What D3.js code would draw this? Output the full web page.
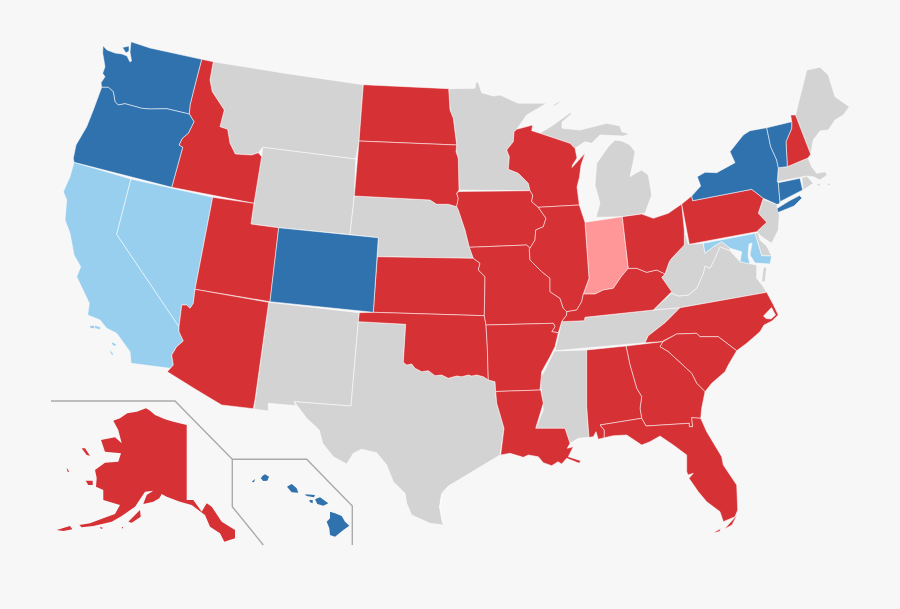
<!DOCTYPE html>
<html><head><meta charset="utf-8">
<script src="https://cdnjs.cloudflare.com/ajax/libs/d3/7.8.5/d3.min.js"></script>
<style>html,body{margin:0;padding:0;background:#f7f7f7}svg{display:block}</style>
</head><body><svg id="map" width="900" height="609" role="img" aria-label="Map of the United States with states coloured by party category"></svg>
<script>
// State outlines, in map units. Each state is a list of rings [x,y,x,y,...]
const WA=[[103,45.7,107,50,115,53,122,54,127,56,130,62,131.5,61,130,52,131,41.7,150,48,201.7,59.3,195,85,190,105,189.3,114,166.7,108.7,150,109,141.7,108.3,125,103.7,118.3,105,115,101.7,113.3,91.7,108.3,87.3,101.7,87.3,101,82.7,105,76.7,102.7,73.3,105,66.7,102.7,53.3],[122.5,47.5,129,46,129,51,126,53]];
const OR=[[101.7,87.3,108.3,87.3,113.3,91.7,115,101.7,118.3,105,125,103.7,141.7,108.3,150,109,166.7,108.7,189.3,114,194,121.7,188.3,133.3,182.3,138.3,179,145,182.7,147.3,171.7,187.3,74,162.3,73.3,158.3,76,145,86.7,126.7,93.3,110]];
const ID=[[201.7,59.3,213.3,61.7,210,80,212.3,91.7,224.3,110,220,126.7,227.7,129.3,230,143.3,235.3,154,251.7,155,258.3,152.7,261.7,156.7,254,203.3,171.7,187.3,182.7,147.3,179,145,182.3,138.3,188.3,133.3,194,121.7,189.3,114,190,105,195,85]];
const MT=[[213.3,61.7,283,73,363.3,84.7,359,141,355.7,159,262.7,147.3,258.3,152.7,251.7,155,235.3,154,230,143.3,227.7,129.3,220,126.7,224.3,110,212.3,91.7,210,80]];
const WY=[[262.7,147.3,355.7,159,354.3,196,350,234.5,278.7,227.7,251,224,254,203.3,261.7,156.7]];
const ND=[[363.3,84.7,448.7,88.7,450,110,453.3,118.3,456.7,145,359,141]];
const SD=[[359,141,456.7,145,456,151.7,458.3,158.3,459,190,456.7,193.3,458.3,198.3,456.7,206.7,448.3,204.3,436.7,204.3,430,200,354.3,196]];
const NE=[[354.3,196,430,200,436.7,204.3,448.3,204.3,456.7,206.7,458.3,210,465,230,469.3,247.3,473.3,258.3,377.3,256.7,378.3,237.7,350,234.5]];
const KS=[[377.3,256.7,473.3,258.3,480,263.3,478.3,270,485,276.7,484.3,315.7,373.3,312.3]];
const OK=[[359.3,312.7,373.3,312.3,484.3,315.7,486,325,487.3,346.7,488.3,380,483.3,376.7,476.7,375,471.7,376,468.3,375,461.7,376.7,456.7,376,448.3,378.3,441.7,375,435,375.7,428.3,370.7,421.7,371.7,415,368.3,411.7,364,406.7,365,403.3,362.3,405.7,324.3,358.3,321.7]];
const TX=[[358.3,321.7,405.7,324.3,403.3,362.3,406.7,365,411.7,364,415,368.3,421.7,371.7,428.3,370.7,435,375.7,441.7,375,448.3,378.3,456.7,376,461.7,376.7,468.3,375,471.7,376,476.7,375,483.3,376.7,488.3,380,495,381.7,495.7,391.7,496.7,403.3,504,428.3,500,455,483.3,465,466.7,475,450,485,442.7,491.7,440,506.7,443.3,525,430,523.3,411.7,515,406.7,503.3,405,493.3,393.3,481.7,386.7,465,376.7,452.7,361.7,449.3,353.3,453.3,346.7,464,333.3,456.7,322.7,443.3,319.3,430,306.7,418.3,294.3,401.7,351,406],[449,485.5,441.5,494,439.5,507,442.5,523,440,507,442,495]];
const MN=[[448.7,88.7,475,88.3,476,81.7,478.3,82.7,481.7,92.7,493.3,96,500,95,518.3,103.3,530,103.3,546.7,103.3,526.7,115,516.7,129.3,514,131.7,513.3,141.7,506.7,150,509.3,156.7,508.3,169.3,518.3,173.3,528.3,183.3,530,190.7,459,190,458.3,158.3,456,151.7,456.7,145,453.3,118.3,450,110]];
const IA=[[459,191.5,530,190.7,532.7,195,531.7,201.7,538.3,207.3,546,218.3,543.3,226.7,535.7,230,535,240,530,248.3,526.7,245,469.3,247.3,465,230,458.3,210,456.7,206.7,458.3,198.3,456.7,193.3]];
const MO=[[469.3,247.3,526.7,245,530,248.3,529.3,249.3,530,260,541.7,271.7,550,278.3,550,291.7,560,298.3,563.3,308.3,566.7,311.7,566.7,315,561.7,321.7,558.3,332.7,551.7,331.7,555,326.7,553.3,323.3,486,325,484.3,315.7,485,276.7,478.3,270,480,263.3,473.3,258.3]];
const AR=[[486,325,553.3,323.3,555,326.7,551.7,331.7,558.3,332.7,555,346.7,550,356.7,541.7,371.7,540,390,495.7,391.5,495,381.7,488.3,380,487.3,346.7]];
const LA=[[495.7,391.5,540.7,390,543.3,403.3,535.7,428.3,565,428.3,570,443.3,567.3,448.3,573.3,446.7,568.3,456.7,580.7,460.7,579.3,463.3,566.7,458.3,561.7,464,558,461.7,551.7,465.7,543.3,462.7,538.3,456.7,528.3,455,523.3,457.3,510,453.3,500.7,455,504,428.3,496.7,403.3]];
const WI=[[516.7,129.3,532.7,125,531.7,130.7,540,133.3,570,143.3,575,148.3,577,158,572.5,165,572,167.5,585,153.3,581,165,579.5,177,577,187,579.3,205,538.3,207.3,531.7,201.7,532.7,195,530,190.7,528.3,183.3,518.3,173.3,508.3,169.3,509.3,156.7,506.7,150,513.3,141.7,514,131.7]];
const IL=[[538.3,207.3,579.3,205,585,222.3,589,278.3,583.3,294,581.7,301.7,576.7,310,566.7,311.7,563.3,308.3,560,298.3,550,291.7,550,278.3,541.7,271.7,530,260,529.3,249.3,535,240,535.7,230,543.3,226.7,546,218.3]];
const MI=[[596,217.3,600,203.3,595,185,596.7,163.3,608.3,146.7,615,140,622,141,630,145,635,151.7,633,163,630,176.7,636,173,641.7,170,648.3,175,651.7,195,645,213.3,622.3,216.7],[540,133.3,553.3,125,570,112.7,572,113.5,562,122,562,128.3,580,130,606.7,123.3,620,126,621.7,131.7,630,134,623.3,136,600,135,591.7,143.3,585,141.7,575,148.3,570,143.3],[553.3,105,561.7,100,558,104,553.5,106.5]];
const IN=[[585,222.3,622.3,216.7,628.3,268.3,621.7,276,613.3,288.3,603.3,290,595,294,583.3,294,589,278.3]];
const OH=[[622.3,216.7,641.7,214,653.3,218.3,668.3,213.3,681.7,204,684.3,230,684.3,245,671.7,258.3,669.3,261.7,665,274,656.7,270,646.7,272.3,636.7,268.3,628.3,268.3]];
const KY=[[628.3,268.3,636.7,268.3,646.7,272.3,656.7,270,665,274,661.7,277.3,671.7,291.7,653.3,310,585,317.3,584.3,320.7,561.7,321.7,566.7,315,566.7,311.7,576.7,310,581.7,301.7,583.3,294,595,294,603.3,290,613.3,288.3,621.7,276]];
const TN=[[561.7,321.7,584.3,320.7,585,317.3,653.3,310,680,307.7,665,322.7,648.3,335.7,645,342.7,555,350.7]];
const MS=[[554.3,351,586.7,350,586.7,406.7,589,437.3,578.3,438.3,570,443.3,565,428.3,535.7,428.3,543.3,410,540,378.3,545,370]];
const AL=[[586.7,350,626,346,630,365,636.7,388.3,641.7,396.7,640,408.3,641.7,418.3,600,425,604.3,430,604.3,437.7,598.3,439.3,596,431.7,593.3,436.7,589,437.3,586.7,406.7]];
const GA=[[626,346,662.7,341.7,660,346.7,668.3,351.7,681.7,364,691.7,373.3,696.7,383.3,705,391.7,701.7,408.3,700.7,418.3,691.7,417.7,692.7,426.7,689.3,426.7,689.3,423.3,646,426,641.7,418.3,640,408.3,641.7,396.7,636.7,388.3,630,365]];
const FL=[[600,425,641.7,418.3,646,426,689.3,423.3,689.3,426.7,692.7,426.7,691.7,417.7,700.7,418.3,706.7,431.7,721.7,456.7,723.3,465,736.7,485,737.7,510,735,516.7,723.3,521.7,720,511.7,706.7,501.7,698.3,491.7,689,478.3,693.3,473.3,688,475,686.7,471.7,686.7,455,673.3,445,660,436,650,441.7,641.7,445,626.7,435,613.3,435.7,604.3,437.7,604.3,430],[713,533,720.7,528.5,719.5,531.5],[724.5,529,737,515,732,525]];
const SC=[[662.7,341.7,676.7,334,696.7,333.3,700,336.7,718.3,336.7,736.7,350.7,728.3,365,725,371.7,711.7,383.3,705,391.7,696.7,383.3,691.7,373.3,681.7,364,668.3,351.7,660,346.7]];
const NC=[[680,307.7,766.7,292.3,773,304,778.3,315,772,321,764,325,760,331.7,746.7,343.3,736.7,350.7,718.3,336.7,700,336.7,696.7,333.3,676.7,334,661.7,341.7,645,342.7,648.3,335.7,665,322.7],[771.5,307.5,775.5,315,771,319,766,318.5,763.5,316]];
const VA=[[653.3,310,671.7,293.3,678.3,296,688.3,295,696.7,288.3,703.3,273.3,705,266,710,268.3,715,258.3,720,246.7,730,250.7,740,261.7,756.7,265,756.7,278.3,763.3,286.7,766.7,292.3,680,307.7],[763.3,268,766.7,266.7,765,281.7,761.7,281.7]];
const WV=[[684.3,230,688.3,244.3,703.3,243.3,705,253.3,713.3,246.7,721.7,241.7,730,248.3,730,250.7,720,246.7,715,258.3,710,268.3,705,266,703.3,273.3,696.7,288.3,688.3,295,678.3,296,671.7,293.3,661.7,277.3,665,274,669.3,261.7,671.7,258.3,684.3,245]];
const MD=[[703.3,243.3,755,233.3,761.7,255.7,771.7,256,770,264,755,263,750,255,752,243,749,244,748,256,750,264,740,261.7,741.7,251.7,730,248.3,721.7,241.7,713.3,246.7,705,253.3]];
const DE=[[755,233.3,758,232.5,760,240,766.7,246,771.7,256,761.7,255.7]];
const PA=[[681.7,204,691.7,196,692.7,200.7,751.7,189.3,763.3,198.3,758.3,213.3,766.7,222.3,756.7,231.7,689.3,244.3]];
const NJ=[[763.3,199.3,776.7,204.3,779.3,215,778.3,230,771.7,243.3,761.7,236.7,756.7,231.7,766.7,222.3,758.3,213.3]];
const NY=[[692.7,200.7,691.7,196,700.7,186,697.3,176.7,705,172.3,716.7,172.7,735,162.7,730,151.7,743.3,135,750,130.7,766.7,127.7,770.7,146.7,776.7,160,778.3,167.7,777.3,181.7,778.3,182.7,780,201.7,779,204,776.7,204.3,763.3,198.3,751.7,189.3],[777,208.5,789,201,799.5,195.5,802,198,794,206,778,212.5]];
const CT=[[778.3,182.7,800,178.3,802.7,190,780,201.7]];
const RI=[[801.7,177.7,806.7,176,813.3,183.3,803.3,190]];
const MA=[[778.3,167.7,787.3,166.7,808,158,811.7,166.7,816.7,173.3,825,171.7,827.3,175,820,180,813.3,176.7,806.7,176,777.3,181.7],[816,184,820.5,183.5,819.5,186.5],[826,183.5,830.5,183.5,829.5,186]];
const VT=[[766.7,127.7,791.7,121.7,791.7,128.3,786,141.7,787.3,166.7,778.3,167.7,776.7,160,770.7,146.7]];
const NH=[[790.7,115,795.5,115,810.7,154.3,808,158,787.3,166.7,786,141.7,791.7,128.3,791.7,121.7]];
const ME=[[795.5,115,800,96.7,803,85,806.7,70,820,67.3,828.3,75,835,96.7,849.3,106.7,843.3,115,835,120,828.3,130,820,131,813.3,140,810.7,154.3]];
const CO=[[278.7,227.7,378.3,237.7,373.3,312.3,270,301.7]];
const UT=[[212.7,197.3,254,203.3,251,224,278.7,227.7,270,301.7,195,289.3]];
const NV=[[131,179,212.7,197.3,195,289.3,193.3,303.3,190,308.3,186.7,305,181.7,305,179,326.7,116.7,234.3]];
const CA=[[74,162.3,131,179,116.7,234.3,179,326.7,179,331.7,183.3,341,176.7,346.7,171.7,355,173.3,365,170,368.3,131,363.3,130,351.7,116.7,333.3,106.7,328.3,100,320,87.7,315,89.3,303.3,76.7,276.7,80.7,266.7,74,255,70,233.3,65,220,66.7,200,63.3,191.7,70,176.7],[89.5,325.5,94.5,325.5,94.5,328.5,90.5,328.5],[94.5,325,101,327.5,100,329.5,95,328.5],[111.5,341.5,116.5,344.5,115,346.5,112,344.5],[109.5,349.5,113.5,354,112,355.5,110,352]];
const AZ=[[195,289.3,268.7,302.3,255,400,253.3,408.7,221.7,405,196.7,390,167.3,371.7,173.3,365,171.7,355,176.7,346.7,183.3,341,179,331.7,179,326.7,181.7,305,186.7,305,190,308.3,193.3,303.3]];
const NM=[[268.7,302.3,359,312.7,358.3,321.7,351,406,294.3,401.7,295.7,405.7,268.3,403.3,268.3,411,254,409]];
const AK=[[113.3,420.7,120,418.3,127.3,413.3,136.7,411.7,146,408.3,150,410.7,155,415,165,419.3,173.3,421.7,186.7,425,186.7,500,193.3,500,201.7,511.7,206.7,503.3,211.7,506.7,221.7,521.7,235,530,235,538.3,224.3,541.7,220,533.3,210,526.7,205,515,191.7,505,180,501.7,166.7,496.7,161.7,494,159.3,498.3,153.3,501.7,143.3,504,146.7,495,153.3,490.7,145,491.7,135,506.7,121.7,516,111.7,521.7,93.3,526,81.7,527.3,79.3,525,90,523.3,103.3,518.3,115,514,120,505,103.3,500,103.3,490,96,486.7,96.7,478,95,470,105,462.7,118.3,461.7,121,453.3,105,451.7,101,440,115,437.3,121.7,443.3,118.3,430],[128.3,521.7,140,510,140.7,516.7,131.7,522.7],[56.7,530,70,526,72.3,529.3,63.3,531],[81.7,448.3,85,448.3,90,455.7,86.7,455],[85.7,480.7,92.7,480.7,92.7,485,88.3,485],[66.7,467.7,69.3,471.7,67.5,471.7],[100,526.7,103,528,101,529],[121.7,527,123,527,122.5,529]];
const HI=[[260.7,478.3,263,475.5,265,474.3,269,476.7,267.3,480.7,263.3,481],[251.7,481.7,255,479,254,482.3],[287,486.7,291.7,484,296.7,488.3,298.3,492.7,291.7,492.3],[305,494.3,315,495,314,497.3,306.7,496],[309.3,500,312.7,500,312.7,503.3,310,502.3],[315,499.3,320,497.3,328.3,503.3,323.3,505.7,317.3,504],[330,511.7,335,513.3,341.7,516,345,521.7,349.3,525.7,343.3,530,335,536.7,330,535,329.3,528.3,326.7,521.7,330,518.3]];
const insetLineAlaska=[51,401,175,401,232.3,459.3,232.3,506.7,263.3,545];
const insetLineHawaii=[232.3,459.3,306.7,459.3,352.3,506,352.3,545];

// Categories
const categoryNames=["Democratic","Competitive Democratic","Republican","Competitive Republican","No election"];
const categoryColors=["#3072ae","#99cfee","#d63135","#ff9799","#d3d3d3"];
const democratic=[["WA",WA],["OR",OR],["CO",CO],["NY",NY],["VT",VT],["CT",CT],["HI",HI]];
const competitiveDemocratic=[["CA",CA],["NV",NV],["MD",MD]];
const republican=[["ID",ID],["UT",UT],["AZ",AZ],["ND",ND],["SD",SD],["KS",KS],["OK",OK],["IA",IA],["MO",MO],["AR",AR],["LA",LA],["WI",WI],["IL",IL],["KY",KY],["OH",OH],["PA",PA],["NH",NH],["NC",NC],["SC",SC],["GA",GA],["AL",AL],["FL",FL],["AK",AK]];
const competitiveRepublican=[["IN",IN]];
const noElection=[["MT",MT],["WY",WY],["NE",NE],["MN",MN],["MI",MI],["NM",NM],["TX",TX],["MS",MS],["TN",TN],["VA",VA],["WV",WV],["NJ",NJ],["DE",DE],["RI",RI],["MA",MA],["ME",ME]];
const strokelessStates=["AK","HI"];

const color=d3.scaleOrdinal(categoryNames,categoryColors);
const chunk=f=>d3.range(0,f.length,2).map(i=>[f[i],f[i+1]]);
const closed=r=>{const c=chunk(r);return c.concat([c[0]]);};
const feature=(cat)=>([id,rings])=>({type:"Feature",id,properties:{cat},geometry:{type:"MultiPolygon",coordinates:[rings.map(closed)]}});
const features=[
  ...noElection.map(feature(categoryNames[4])),
  ...competitiveDemocratic.map(feature(categoryNames[1])),
  ...competitiveRepublican.map(feature(categoryNames[3])),
  ...republican.map(feature(categoryNames[2])),
  ...democratic.map(feature(categoryNames[0]))
];
const path=d3.geoPath(d3.geoIdentity());
const svg=d3.select("#map");
svg.append("rect").attr("width",900).attr("height",609).attr("fill","#f7f7f7");
svg.append("g").selectAll("path").data(features).join("path")
  .attr("d",path).attr("fill",d=>color(d.properties.cat)).attr("fill-rule","evenodd")
  .attr("stroke",d=>strokelessStates.includes(d.id)?"none":"#ffffff").attr("stroke-opacity",0.75).attr("stroke-width",0.7).attr("stroke-linejoin","round");
const line=d3.line();
svg.append("g").selectAll("path").data([insetLineAlaska,insetLineHawaii]).join("path")
  .attr("d",d=>line(chunk(d))).attr("fill","none").attr("stroke","#aaaaaa").attr("stroke-width",1.4);
</script></body></html>
